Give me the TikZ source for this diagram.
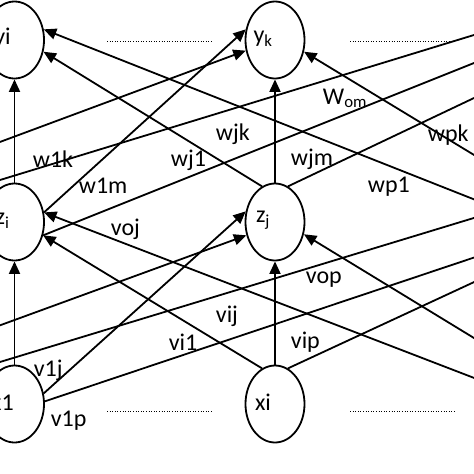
\documentclass[tikz,border=0pt]{standalone}
\usepackage{fontspec}
\setmainfont{Carlito}
\usetikzlibrary{arrows.meta,shapes.geometric}

\tikzset{
  unit/.style={draw, ellipse, line width=1.8pt, minimum width=59pt, minimum height=77pt,
    inner sep=0pt, label={[anchor=base west, inner sep=0pt, xshift=-12pt, yshift=1.5pt]center:#1}},
  wt/.style={anchor=base west, inner sep=0pt},
  dots/.style={-, line width=1pt, dash pattern=on 1pt off 1.6pt},
}

\begin{document}
\begin{tikzpicture}[x=1pt, y=-1pt, line width=1.8pt, -{Triangle[length=12.5pt,width=11pt]},
    font=\fontsize{24}{28}\selectfont]
    \useasboundingbox (0,0) rectangle (474,474);
    \clip (0,0) rectangle (474,474);
    % units
    \node[unit={yi}] (y1) at (14.5,40) {};
    \node[unit={y\textsubscript{k}}] (yk) at (275,40) {};
    \node[unit={z\textsubscript{i}}] (z1) at (14.5,222) {};
    \node[unit={z\textsubscript{j}}] (zj) at (275,222) {};
    \node[unit={x1}] (x1) at (14.5,404) {};
    \node[unit={xi}] (xi) at (275,404) {};
    % ends of lines leaving the picture
    \coordinate (z0-wk) at (-215.5,222);
    \coordinate (z0-wm) at (-223.2,248.3);
    \coordinate (zp-w1) at (506,212);
    \coordinate (zp-wk) at (524,185.3);
    \coordinate (ym-w0) at (507.3,24.8);
    \coordinate (ym-w1) at (506,50.2);
    \coordinate (ym-wj) at (521.8,75.3);
    \coordinate (x0-vj) at (-215.5,404);
    \coordinate (x0-vp) at (-222.8,429.7);
    \coordinate (xn-v1) at (506.7,390.5);
    \coordinate (xn-vj) at (523,367.9);
    \coordinate (zp-v0) at (507,207.9);
    \coordinate (zp-v1) at (510.8,245.2);
    \coordinate (zp-vi) at (524.2,258.8);
    \path
    (z1.north) edge (y1.south)
    (zj.110) edge (y1.-22)
    (zp-w1) edge (y1.20)
    (z0-wk) edge (yk.200)
    (z1.18) edge (yk.160)
    (zj.north) edge (yk.south)
    (zp-wk) edge (yk.-22)
    (z0-wm) edge (ym-w0)
    (z1.-25) edge (ym-w1)
    (zj.70) edge (ym-wj)
    (x1.north) edge (z1.south)
    (xi.110) edge (z1.-25)
    (xn-v1) edge (z1.18)
    (x0-vj) edge (zj.205)
    (x1.20) edge (zj.160)
    (xi.north) edge (zj.south)
    (xn-vj) edge (zj.-23)
    (x0-vp) edge (zp-v0)
    (x1.5) edge (zp-v1)
    (xi.70) edge (zp-vi)
    ;
    % weights
    \node[wt] (lw1k) at (32,167) {w1k};
    \node[wt] (lw1m) at (78,193) {w1m};
    \node[wt] (lwj1) at (170,166) {wj1};
    \node[wt] (lwjk) at (215,140) {wjk};
    \node[wt] (lwom) at (322,104) {W\textsubscript{om}};
    \node[wt] (lwpk) at (427,141) {wpk};
    \node[wt] (lwjm) at (290,165) {wjm};
    \node[wt] (lwp1) at (367,192) {wp1};
    \node[wt] (lvoj) at (110,235) {voj};
    \node[wt] (lvop) at (305,283) {vop};
    \node[wt] (lvij) at (215,322) {vij};
    \node[wt] (lvi1) at (168,350) {vi1};
    \node[wt] (lvip) at (290,348) {vip};
    \node[wt] (lv1j) at (33,376) {v1j};
    \node[wt] (lv1p) at (50,426) {v1p};
    % dotted gaps
    \draw[dots] (107,41) -- (213,41);
    \draw[dots] (350,41) -- (455,41);
    \draw[dots] (107,411) -- (213,411);
    \draw[dots] (350,411) -- (456,411);
\end{tikzpicture}
\end{document}
